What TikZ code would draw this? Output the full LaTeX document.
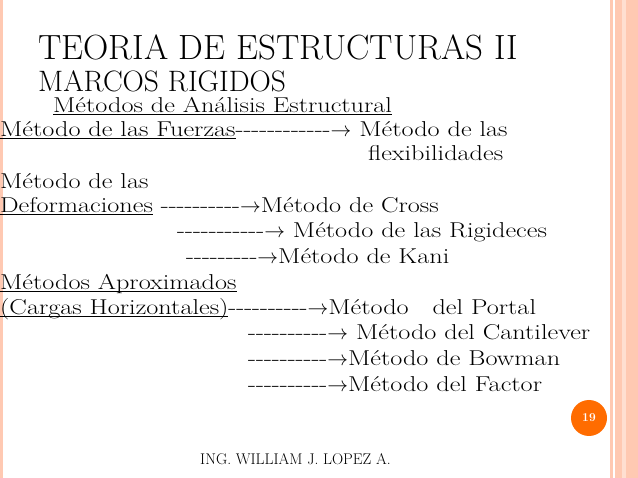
\documentclass[tikz,border=0pt]{standalone}
\usepackage{fontspec}
\newfontfamily\bodyf{Latin Modern Roman}[FakeStretch=1.22]
\tikzset{
  txt/.style={anchor=base west, inner sep=0pt, font=\bodyf\fontsize{21.5}{24}\selectfont},
  hd/.style={anchor=base west, inner sep=0pt}
}
\newcommand{\ar}{$\rightarrow$}
\newcommand{\ul}[1]{\underline{\smash{#1}}}
\newcommand{\dd}[1]{\foreach\i in {1,...,#1}{-\kern0pt}}
\begin{document}
\begin{tikzpicture}[x=1pt,y=-1pt]
\useasboundingbox (0,0) rectangle (638,478);
\fill[white] (0,0) rectangle (638,478);
% borders
\fill[red!40!orange!30] (0,0) rectangle (3,478);
\fill[red!40!orange!30] (610,0) rectangle (613,478);
\fill[red!40!orange!30] (615,0) rectangle (638,478);
\fill[red!40!orange!18] (622,0) rectangle (626,478);
% titles
\node[hd, font=\fontsize{35}{38}\selectfont] (t1) at (38,60) {TEORIA DE ESTRUCTURAS II};
\node[hd, font=\fontsize{29.5}{31}\selectfont] (t2) at (38,92) {MARCOS RIGIDOS};
\node[txt] (t3) at (53,113) {\ul{Métodos de Análisis Estructural}};
% body
\node[txt] (a1) at (0,137) {\ul{Método de las Fuerzas}\dd{12}\ar{} Método de las};
\node[txt] (a2) at (368,161) {flexibilidades};
\node[txt] (b1) at (0,189) {Método de las};
\node[txt] (b2) at (0,213) {\ul{Deformaciones} \dd{10}\ar Método de Cross};
\node[txt] (b3) at (177,238) {\dd{11}\ar{} Método de las Rigideces};
\node[txt] (b4) at (186,264) {\dd{9}\ar Método de Kani};
\node[txt] (c1) at (0,290) {\ul{Métodos Aproximados}};
\node[txt] (c2) at (0,315) {\ul{(Cargas Horizontales)}\dd{10}\ar Método\ \ \ del Portal};
\node[txt] (c3) at (248,340) {\dd{10}\ar{} Método del Cantilever};
\node[txt] (c4) at (248,366) {\dd{10}\ar Método de Bowman};
\node[txt] (c5) at (248,392) {\dd{10}\ar Método del Factor};
% page number
\node[circle, fill=orange!85!red, minimum size=36pt, inner sep=0pt, text=white, font=\bfseries\fontsize{12}{14}\selectfont] (pg) at (589,418) {19};
\node[hd, font=\fontsize{15.5}{17}\selectfont] (ft) at (200,465) {ING. WILLIAM J. LOPEZ A.};
\end{tikzpicture}
\end{document}
